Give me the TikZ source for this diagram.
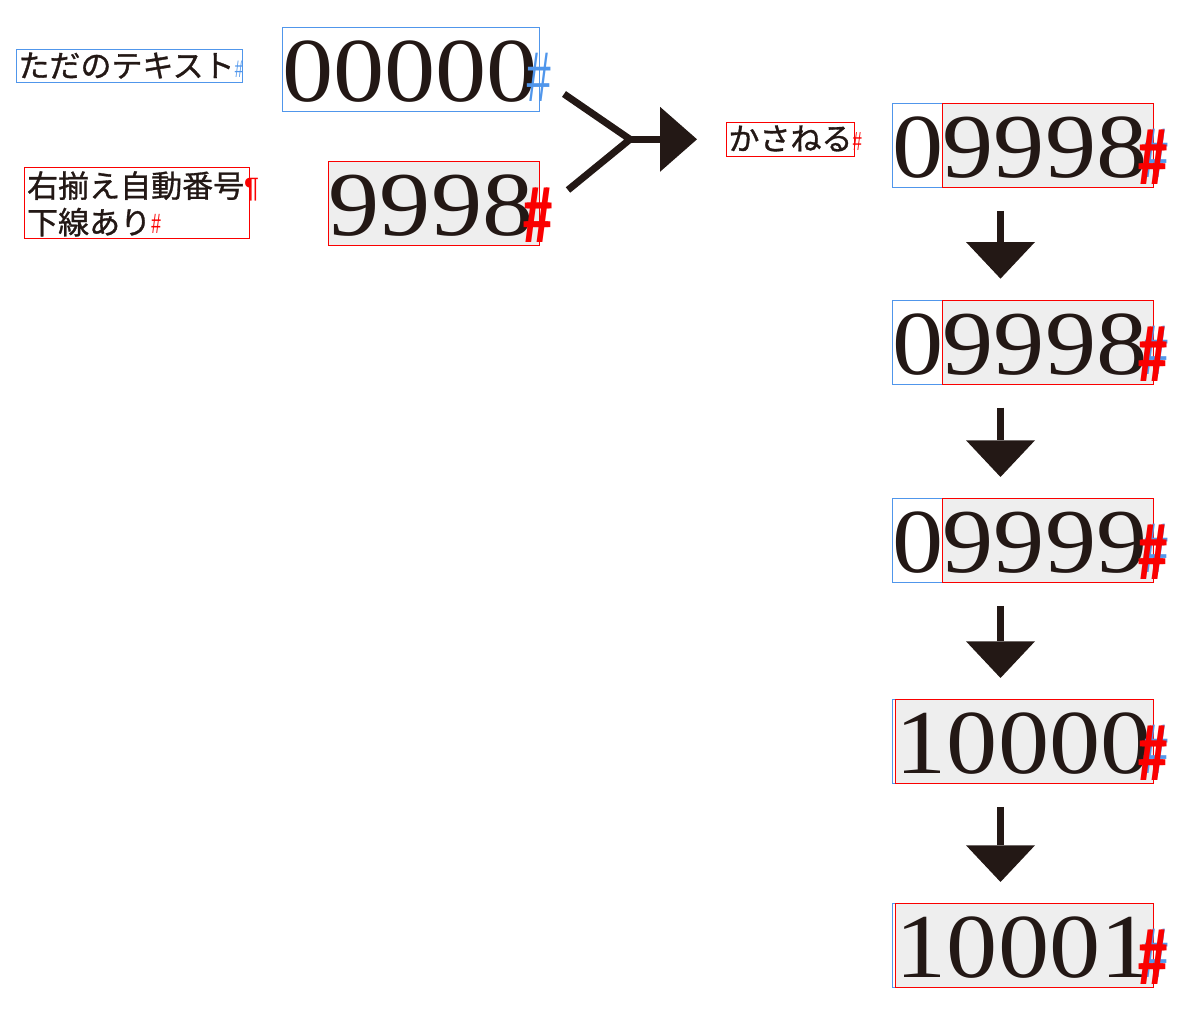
\documentclass[tikz,border=0pt]{standalone}
\usepackage{fontspec}
\usepackage{graphicx}
\usetikzlibrary{arrows.meta}
\setmainfont{Liberation Serif}
\newfontfamily\jpfont[FakeBold=1]{Noto Sans CJK JP}
\newfontfamily\digitfont[FakeStretch=1.12]{Liberation Serif}
\newfontfamily\hashfont{Liberation Sans}
\definecolor{ink}{RGB}{35,24,21}
\definecolor{frameblue}{RGB}{80,150,235}
\definecolor{framered}{RGB}{250,0,0}
\definecolor{shade}{RGB}{238,238,238}
\newcommand\hashsym[1]{{\fontsize{#1}{#1}\selectfont\hashfont\itshape\scalebox{0.61}[1]{\#}}}
\newcommand\boldhash{{\fontsize{60pt}{60pt}\selectfont\hashfont\bfseries\itshape\scalebox{0.62}[1]{\#}}}
\newcommand\pilcrow{{\fontsize{21pt}{21pt}\selectfont\hashfont ¶}}

\begin{document}
\begin{tikzpicture}[x=0.75pt,y=-0.75pt,
  blueframe/.style = {draw=frameblue,line width=0.75pt,inner xsep=0pt,inner ysep=0pt,anchor=north west,align=left,text=ink},
  redframe/.style = {blueframe,draw=framered},
  shadeframe/.style = {redframe,fill=shade},
  numframe/.style = {font=\digitfont\fontsize{68.5pt}{70pt}\selectfont,text height=55.5pt,text depth=7.5pt},
  jpframe/.style = {font=\jpfont\fontsize{23.25pt}{27.45pt}\selectfont,inner xsep=1.5pt,text height=20.5pt,text depth=3.8pt},
  hashmark/.style = {anchor=base,inner sep=0pt,text=frameblue},
  redhash/.style = {hashmark,text=framered},
  arm/.style = {draw=ink,line width=5.25pt,line join=bevel},
  drop/.style = {draw=ink,line width=5.5pt,shorten <=17pt,shorten >=16pt,-{Triangle[length=27.5pt,width=51.75pt,line width=0pt]}}]
\useasboundingbox (0,0) rectangle (1192,1017);

% left side
\node[blueframe,jpframe,text width=166.7pt] (plaintext) at (16,49.3) {ただのテキスト\rlap{\color{frameblue}\hashsym{18pt}}};
\node[blueframe,numframe,text width=192.75pt] (zeros) at (281.7,27.3) {00000};
\node[hashmark] (zerohash) at (538,101.7) {\hashsym{53pt}};

\node[redframe,jpframe,inner xsep=2pt,text width=165pt,text height=22.6pt,text depth=31.1pt] (numbering) at (24,166.7)
  {右揃え自動番号\rlap{\color{framered}\pilcrow}\\下線あり\rlap{\color{framered}\hashsym{21pt}}};
\node[shadeframe,numframe,text width=157.8pt] (auto) at (328.3,161.3) {9998};
\node[redhash] (autohash) at (538,242.7) {\boldhash};
\node[redhash] (autohashb) at (536,242.7) {\boldhash};

% merge arrow
\coordinate (armtop) at (564,94);
\coordinate (armbot) at (568,190);
\coordinate (join) at (630,139.3);
\coordinate (jointip) at (697,139.3);
\draw[arm] (armtop) -- (join) -- (armbot);
\draw[arm,-{Triangle[length=27.75pt,width=48.75pt,line width=0pt]}] (join) -- (jointip);

\node[redframe,jpframe,text width=93.2pt,text depth=4.55pt] (stack) at (726,122.3) {かさねる\rlap{\color{framered}\hashsym{19.7pt}}};

% right column
\node[blueframe,numframe,text width=37.5pt] (b1) at (892.3,103.3) {0};
\node[shadeframe,numframe,text width=157.65pt] (r1) at (942.3,103.3) {9998};
\node[hashmark] (h1) at (1155,177.7) {\hashsym{53pt}};
\node[redhash] (h1a) at (1153,184.7) {\boldhash};
\node[redhash] (h1b) at (1151,184.7) {\boldhash};

\node[blueframe,numframe,text width=37.5pt] (b2) at (892.3,300) {0};
\node[shadeframe,numframe,text width=157.65pt] (r2) at (942.3,300) {9998};
\node[hashmark] (h2) at (1155,374.4) {\hashsym{53pt}};
\node[redhash] (h2a) at (1153,381.4) {\boldhash};
\node[redhash] (h2b) at (1151,381.4) {\boldhash};

\node[blueframe,numframe,text width=37.5pt] (b3) at (892.3,498.3) {0};
\node[shadeframe,numframe,text width=157.65pt] (r3) at (942.3,498.3) {9999};
\node[hashmark] (h3) at (1155,572.7) {\hashsym{53pt}};
\node[redhash] (h3a) at (1153,579.7) {\boldhash};
\node[redhash] (h3b) at (1151,579.7) {\boldhash};

\node[blueframe,numframe,text width=2.25pt] (b4) at (892.3,699.3) {};
\node[shadeframe,numframe,text width=192.9pt] (r4) at (895.3,699.3) {10000};
\node[hashmark] (h4) at (1155,773.7) {\hashsym{53pt}};
\node[redhash] (h4a) at (1153,780.7) {\boldhash};
\node[redhash] (h4b) at (1151,780.7) {\boldhash};

\node[blueframe,numframe,text width=2.25pt] (b5) at (892.3,903.3) {};
\node[shadeframe,numframe,text width=192.9pt] (r5) at (895.3,903.3) {10001};
\node[hashmark] (h5) at (1155,977.7) {\hashsym{53pt}};
\node[redhash] (h5a) at (1153,984.7) {\boldhash};
\node[redhash] (h5b) at (1151,984.7) {\boldhash};

\draw[drop] ([xshift=81.15pt]b1.south west) -- ([xshift=81.15pt]b2.north west);
\draw[drop] ([xshift=81.15pt]b2.south west) -- ([xshift=81.15pt]b3.north west);
\draw[drop] ([xshift=81.15pt]b3.south west) -- ([xshift=81.15pt]b4.north west);
\draw[drop] ([xshift=81.15pt]b4.south west) -- ([xshift=81.15pt]b5.north west);
\end{tikzpicture}
\end{document}
